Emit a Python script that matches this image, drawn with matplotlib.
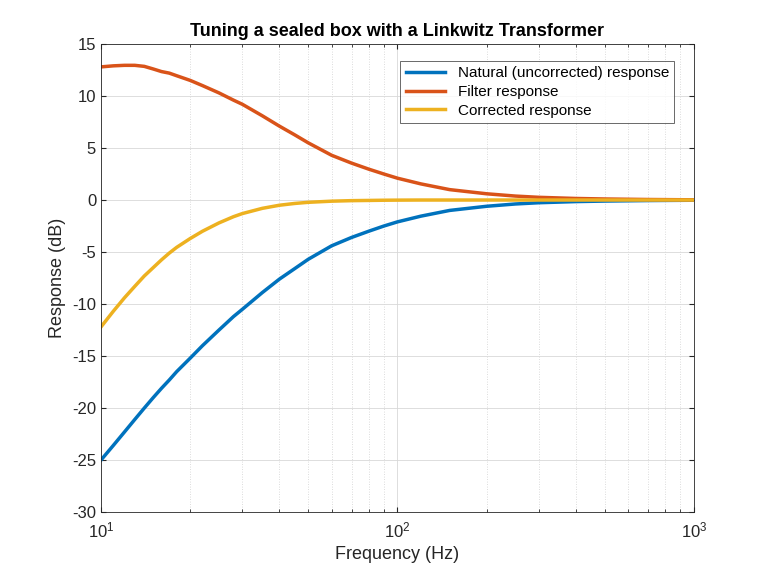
import matplotlib
matplotlib.use("Agg")
import matplotlib.pyplot as plt
from matplotlib.ticker import FixedLocator

plt.rcParams['font.family'] = ['Liberation Sans', 'DejaVu Sans']
plt.rcParams['axes.unicode_minus'] = False

freq = [10, 11, 12, 13, 14, 15, 16, 17, 18, 20, 22, 25, 28, 30, 35, 40, 45, 50, 60, 70, 80, 90, 100, 120, 150, 200, 250, 300, 400, 500, 700, 1000]
natural = [-25.0, -23.6, -22.3, -21.1, -20.0, -19.0, -18.1, -17.3, -16.5, -15.2, -14.0, -12.5, -11.2, -10.5, -8.9, -7.6, -6.6, -5.7, -4.4, -3.6, -3.0, -2.5, -2.1, -1.55, -1.0, -0.6, -0.38, -0.26, -0.15, -0.1, -0.05, -0.02]
corrected = [-12.2, -10.7, -9.4, -8.3, -7.3, -6.5, -5.75, -5.1, -4.55, -3.7, -3.0, -2.2, -1.6, -1.3, -0.8, -0.5, -0.33, -0.22, -0.11, -0.06, -0.04, -0.02, -0.01, 0.0, 0.0, 0.0, 0.0, 0.0, 0.0, 0.0, 0.0, 0.0]
filt = [12.8, 12.9, 12.95, 12.95, 12.85, 12.6, 12.35, 12.2, 11.95, 11.5, 11.0, 10.3, 9.6, 9.2, 8.1, 7.1, 6.27, 5.5, 4.3, 3.55, 2.97, 2.5, 2.1, 1.55, 1.0, 0.6, 0.38, 0.26, 0.15, 0.1, 0.05, 0.02]

fig = plt.figure(figsize=(7.68, 5.76), dpi=100)
ax = fig.add_axes([0.1315, 0.111, 0.772, 0.8126])
ax.plot(freq, natural, color='#0072BD', lw=2.5, label='Natural (uncorrected) response')
ax.plot(freq, filt, color='#D95319', lw=2.5, label='Filter response')
ax.plot(freq, corrected, color='#EDB120', lw=2.5, label='Corrected response')
ax.set_xscale('log')
ax.set_xlim(10, 1000)
ax.set_ylim(-30, 15)
ax.set_yticks(range(-30, 16, 5))
ax.yaxis.set_minor_locator(FixedLocator([]))
ax.grid(True, which='major', color='#d8d8d8', lw=0.6)
ax.grid(True, which='minor', axis='x', color='#d0d0d0', lw=0.6, ls=(0, (1, 2)))
for s in ax.spines.values():
    s.set_color('#262626'); s.set_linewidth(0.6)
ax.tick_params(which='both', direction='in', labelsize=12, colors='#262626', top=True, right=True)
ax.tick_params(axis='x', pad=6)
ax.set_xlabel('Frequency (Hz)', fontsize=13, color='#262626')
ax.set_ylabel('Response (dB)', fontsize=13, color='#262626')
ax.set_title('Tuning a sealed box with a Linkwitz Transformer', fontsize=13, fontweight='bold')
leg = ax.legend(loc='upper right', bbox_to_anchor=(0.98, 0.98), fontsize=11, fancybox=False,
                edgecolor='#262626', handlelength=2.6, borderpad=0.35, labelspacing=0.3)
leg.get_frame().set_linewidth(0.6)
fig.savefig('out.png', dpi=100)
